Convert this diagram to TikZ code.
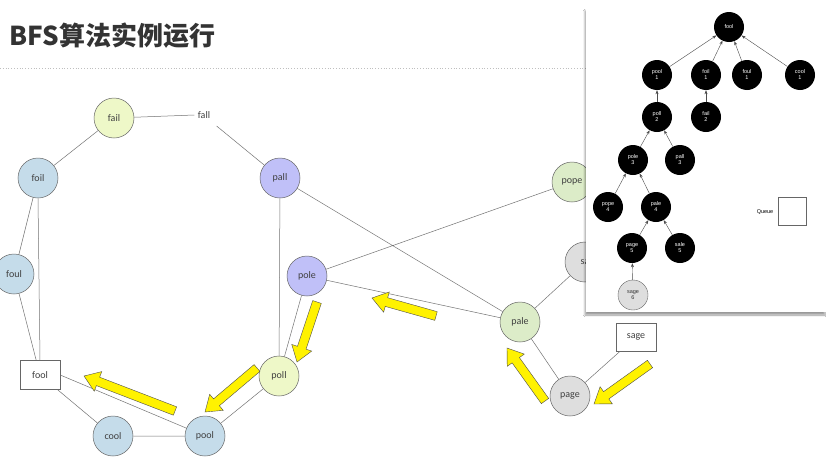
\documentclass[tikz,border=0pt]{standalone}
\usepackage{fontspec}
\setmainfont{Carlito}
\newfontfamily\cjk{Noto Sans CJK SC}
\newfontfamily\hv{Liberation Sans}
\usetikzlibrary{calc,shadows.blur,arrows.meta}
\definecolor{cblue}{HTML}{C5DCEA}
\definecolor{cyel}{HTML}{EEF8C8}
\definecolor{cpur}{HTML}{C0C0F8}
\definecolor{cgrn}{HTML}{DCECC8}
\definecolor{cgry}{HTML}{DEDEDE}
\tikzset{
 gn/.style={circle,draw=black!60,line width=0.5pt,minimum size=40pt,inner sep=0pt,font=\fontsize{10}{10}\selectfont,text=black!75},
 bx/.style={draw=black!60,line width=0.5pt,minimum width=40pt,minimum height=29pt,fill=white,font=\fontsize{10}{10}\selectfont,text=black!75},
 ed/.style={draw=black!55,line width=0.5pt},
 yarr/.style={fill=yellow,draw=black!70,line width=0.4pt,line join=miter},
 tn/.style={circle,fill=black,minimum size=30pt,inner sep=0pt,text=white,align=center,font=\hv\fontsize{5.5}{6}\selectfont},
 ta/.style={-{Stealth[length=4pt,width=3pt]},draw=black!70,line width=0.4pt},
}
\newcommand{\yarrow}[2]{\path[yarr] let \p1=(#1), \p2=(#2), \n1={atan2(\y2-\y1,\x2-\x1)}, \n2={veclen(\x2-\x1,\y2-\y1)} in [shift={(\p1)}, rotate=\n1] (0,-4.5) -- ({\n2-15},-4.5) -- ({\n2-15},-10.5) -- (\n2,0) -- ({\n2-15},10.5) -- ({\n2-15},4.5) -- (0,4.5) -- cycle;}
\begin{document}
\begin{tikzpicture}[x=1pt,y=-1pt]
\useasboundingbox (0,0) rectangle (826,458);
\fill[white] (0,0) rectangle (826,458);
\node[anchor=west,font=\cjk\bfseries\fontsize{26}{26}\selectfont,text=black!80] (title) at (6,36) {BFS算法实例运行};
\draw[black!25,dotted,line width=0.8pt] (0,68) -- (590,68);
% left graph
\node[gn,fill=cyel] (fail) at (114,118) {fail};
\node[font=\fontsize{10}{10}\selectfont,text=black!75] (fall) at (204,115) {fall};
\node[gn,fill=cblue] (foil) at (38,178) {foil};
\node[gn,fill=cpur] (pall) at (280,178) {pall};
\node[gn,fill=cblue] (foul) at (14,274) {foul};
\node[gn,fill=cpur] (pole) at (307,276) {pole};
\node[bx] (fool) at (40,375) {fool};
\node[gn,fill=cyel] (poll) at (279,376) {poll};
\node[gn,fill=cblue] (cool) at (113,436) {cool};
\node[gn,fill=cblue] (pool) at (205,436) {pool};
\node[gn,fill=cgrn] (pope) at (572,182) {pope};
\node[gn,fill=cgry] (sa) at (585,262) {sa};
\node[gn,fill=cgrn] (pale) at (520,322) {pale};
\node[gn,fill=cgry] (page) at (570,396) {page};
\node[bx,minimum height=28pt] (sage) at (636,337) {sage};
\path[ed] (fail) -- (fall.west) ($(fall.south east)+(3,4)$) -- (pall) (fail) -- (foil) (foil) -- (foul)
 (foil.south) -- (fool.north) (foul) -- (fool) (fool) -- (cool) (fool.east) -- (pool)
 (cool) -- (pool) (pool) -- (poll) (poll) -- (pall) (poll) -- (pole) (pall) -- (pale)
 (pole) -- (pale) (pole) -- (pope) (pale) -- (sa) (pale) -- (page) (page) -- (sage);
% yellow arrows
\coordinate (a1) at (317,302); \coordinate (b1) at (297,362);
\coordinate (a2) at (257,368); \coordinate (b2) at (205,412);
\coordinate (a3) at (175,411); \coordinate (b3) at (84,376);
\coordinate (a4) at (436,316); \coordinate (b4) at (372,298);
\coordinate (a5) at (545,401); \coordinate (b5) at (507,348);
\coordinate (a6) at (650,364); \coordinate (b6) at (594,404);
\yarrow{a1}{b1}\yarrow{a2}{b2}\yarrow{a3}{b3}\yarrow{a4}{b4}\yarrow{a5}{b5}\yarrow{a6}{b6}
% panel
\fill[white,blur shadow={shadow blur steps=8,shadow xshift=-1pt,shadow yshift=-3pt}] (586,8) rectangle (826,312);
\node[tn] (tfool) at (729,27) {fool};
\node[tn] (tpool) at (657,75) {pool\\1};
\node[tn] (tfoil) at (706,75) {foil\\1};
\node[tn] (tfoul) at (747,75) {foul\\1};
\node[tn] (tcool) at (800,75) {cool\\1};
\node[tn] (tpoll) at (657,117) {poll\\2};
\node[tn] (tfail) at (706,117) {fail\\2};
\node[tn] (tpole) at (633,160) {pole\\3};
\node[tn] (tpall) at (680,160) {pall\\3};
\node[tn] (tpope) at (608,207) {pope\\4};
\node[tn] (tpale) at (656,207) {pale\\4};
\node[tn] (tpage) at (632,248) {page\\5};
\node[tn] (tsale) at (680,248) {sale\\5};
\node[tn,fill=cgry,draw=black!60,text=black!80] (tsage) at (633,295) {sage\\6};
\foreach \c/\p in {tpool/tfool,tfoil/tfool,tfoul/tfool,tcool/tfool,tpoll/tpool,tfail/tfoil,tpole/tpoll,tpall/tpoll,tpope/tpole,tpale/tpole,tpage/tpale,tsale/tpale,tsage/tpage}
  \draw[ta] (\c) -- (\p);
\node[font=\hv\fontsize{5.5}{6}\selectfont] (queue) at (765,212) {Queue};
\node[draw=black!60,line width=0.4pt,minimum size=28pt,inner sep=0pt] (qbox) at (792,211) {};
\end{tikzpicture}
\end{document}
